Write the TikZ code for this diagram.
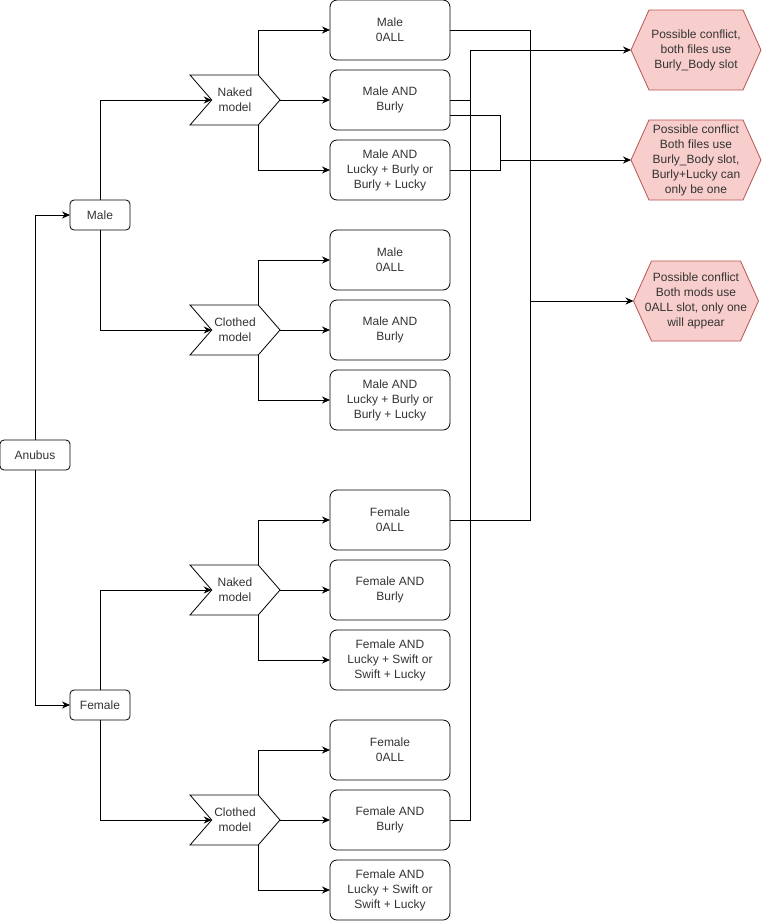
\documentclass[tikz,border=0pt]{standalone}
\usepackage{fontspec}
\setmainfont{Liberation Sans}
\usetikzlibrary{shapes.symbols, arrows.meta, positioning, calc, backgrounds}
\definecolor{conflictfill}{HTML}{F8CECC}
\definecolor{conflictline}{HTML}{B85450}
\definecolor{inktext}{HTML}{333333}

\begin{document}
\begin{tikzpicture}[
    node distance=10pt,
    every node/.style={font=\fontsize{12pt}{15pt}\selectfont, text=inktext, outer sep=0pt},
    leaf/.style={draw, rounded corners=7pt, line width=0.8pt, minimum width=120pt, minimum height=60pt, align=center, inner sep=0pt},
    tag/.style={draw, rounded corners=4pt, line width=0.8pt, minimum height=30pt, align=center, inner sep=0pt},
    model/.style={draw, signal, signal to=east, signal from=west, signal pointer angle=98, minimum width=90pt, minimum height=50pt, align=center, inner sep=0pt, line width=0.8pt},
    conflict/.style={minimum width=130pt, minimum height=80pt, align=center, inner sep=0pt},
    arrow/.style={-{Stealth[length=8pt,width=7pt]}, line width=0.8pt},
    link/.style={line width=0.8pt}
  ]
    \useasboundingbox (0,0) rectangle (762pt,-922pt);

    % leaves, male side
    \node[leaf] (mna) at (390pt,-30pt) {Male\\0ALL};
    \node[leaf, below=of mna] (mnb) {Male AND\\Burly};
    \node[leaf, below=of mnb] (mnc) {Male AND\\Lucky + Burly or\\Burly + Lucky};
    \node[leaf, below=30pt of mnc] (mca) {Male\\0ALL};
    \node[leaf, below=of mca] (mcb) {Male AND\\Burly};
    \node[leaf, below=of mcb] (mcc) {Male AND\\Lucky + Burly or\\Burly + Lucky};

    % leaves, female side
    \node[leaf, below=60pt of mcc] (fna) {Female\\0ALL};
    \node[leaf, below=of fna] (fnb) {Female AND\\Burly};
    \node[leaf, below=of fnb] (fnc) {Female AND\\Lucky + Swift or\\Swift + Lucky};
    \node[leaf, below=30pt of fnc] (fca) {Female\\0ALL};
    \node[leaf, below=of fca] (fcb) {Female AND\\Burly};
    \node[leaf, below=of fcb] (fcc) {Female AND\\Lucky + Swift or\\Swift + Lucky};

    % models
    \node[model, left=50pt of mnb] (mn) {Naked\\model};
    \node[model, left=50pt of mcb] (mc) {Clothed\\model};
    \node[model, left=50pt of fnb] (fn) {Naked\\model};
    \node[model, left=50pt of fcb] (fc) {Clothed\\model};

    \coordinate (mmid) at ($(mn.center)!0.5!(mc.center)$);
    \coordinate (fmid) at ($(fn.center)!0.5!(fc.center)$);
    \node[tag, minimum width=60pt, left=105pt of mmid] (male) {Male};
    \node[tag, minimum width=60pt, left=105pt of fmid] (female) {Female};
    \node[tag, minimum width=70pt, anchor=east] (anubus) at ($(male.west)+(0,-240pt)$) {Anubus};

    % conflicts
    \node[conflict] (h1) at (696pt,-50pt) {Possible conflict,\\ both files use\\Burly\_Body slot};
    \node[conflict, below=30pt of h1] (h2) {Possible conflict\\Both files use\\Burly\_Body slot,\\Burly+Lucky can\\only be one};
    \node[conflict, below=61pt of h2, minimum width=125pt] (h3) {Possible conflict\\Both mods use\\0ALL slot, only one\\will appear};
    \begin{scope}[on background layer]
      \foreach \h in {h1,h2,h3}
        \draw[fill=conflictfill, draw=conflictline, line width=0.8pt] (\h.west) -- ([xshift=18pt]\h.north west) -- ([xshift=-18pt]\h.north east) -- (\h.east) -- ([xshift=-18pt]\h.south east) -- ([xshift=18pt]\h.south west) -- cycle;
    \end{scope}

    % tree
    \draw[arrow] (anubus.north) |- (male.west);
    \draw[arrow] (anubus.south) |- (female.west);
    \draw[arrow] (male.north) |- (mn.west);
    \draw[arrow] (male.south) |- (mc.west);
    \draw[arrow] (female.north) |- (fn.west);
    \draw[arrow] (female.south) |- (fc.west);
    \foreach \m/\l in {mn/mn, mc/mc, fn/fn, fc/fc} {
      \draw[arrow] (\m.north east) |- (\l a.west);
      \draw[arrow] (\m.east) -- (\l b.west);
      \draw[arrow] (\m.south east) |- (\l c.west);
    }

    % conflict links
    \coordinate (j1) at ($(h1.west)+(-161pt,0)$);
    \coordinate (j2) at ($(h2.west)+(-131pt,0)$);
    \coordinate (j3) at ($(h3.west)+(-103pt,0)$);
    \draw[link] (mnb.east) -| (j1);
    \draw[link] (fcb.east) -| (j1);
    \draw[arrow] (j1) -- (h1.west);
    \draw[link] (mnb.-14) -| (j2);
    \draw[link] (mnc.east) -| (j2);
    \draw[arrow] (j2) -- (h2.west);
    \draw[link] (mna.east) -| (j3);
    \draw[link] (fna.east) -| (j3);
    \draw[arrow] (j3) -- (h3.west);
\end{tikzpicture}
\end{document}
